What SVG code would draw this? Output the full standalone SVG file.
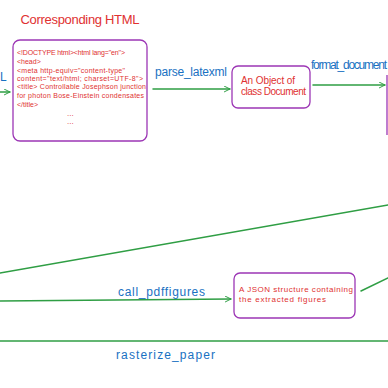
<svg xmlns="http://www.w3.org/2000/svg" width="388" height="388" viewBox="0 0 388 388">
<defs>
<marker id="ah" viewBox="0 0 10 10" refX="9" refY="5" markerWidth="7" markerHeight="7" orient="auto" markerUnits="userSpaceOnUse">
<path d="M1,1 L9,5 L1,9" fill="none" stroke="#2f9e44" stroke-width="1.4" stroke-linecap="round"/>
</marker>
<style>
.box{fill:#ffffff;stroke:#9c36b5;stroke-width:1.3}
.edge{fill:none;stroke:#2f9e44;stroke-width:1.5;stroke-linecap:round}
.lbl{fill:#1971c2;font-family:"Liberation Sans",Arial,sans-serif;font-size:12px}
.red{fill:#e03131;font-family:"Liberation Sans",Arial,sans-serif}
</style>
</defs>
<rect width="388" height="388" fill="#ffffff"/>
<g id="connectors">
<line class="edge" x1="0" y1="92" x2="10" y2="92" marker-end="url(#ah)"/>
<line class="edge" x1="153" y1="89" x2="230" y2="89" marker-end="url(#ah)"/>
<line class="edge" x1="313" y1="85" x2="385" y2="85" marker-end="url(#ah)"/>
<line class="edge" x1="0" y1="273" x2="388" y2="205"/>
<line class="edge" x1="0" y1="301" x2="231" y2="299" marker-end="url(#ah)"/>
<line class="edge" x1="361" y1="291" x2="388" y2="278" stroke-width="1"/>
<line class="edge" x1="0" y1="341" x2="388" y2="341" stroke-width="2"/>
<text class="lbl" x="0" y="81">L</text>
<text class="lbl" x="155" y="76" textLength="72">parse_latexml</text>
<text class="lbl" x="311" y="69" textLength="76">format_document</text>
<text class="lbl" x="118" y="296" textLength="87">call_pdffigures</text>
<text class="lbl" x="116" y="359" textLength="99">rasterize_paper</text>
</g>
<g id="title">
<text class="red" x="80" y="24" font-size="13" text-anchor="middle" textLength="119">Corresponding HTML</text>
</g>
<g id="html">
<rect class="box" x="13" y="40" width="134" height="101" rx="7"/>
<g class="red" font-size="7">
<text x="17" y="55" textLength="108">&lt;!DOCTYPE html&gt;&lt;html lang="en"&gt;</text>
<text x="17" y="64">&lt;head&gt;</text>
<text x="17" y="73" textLength="108">&lt;meta http-equiv="content-type"</text>
<text x="17" y="81" textLength="126">content="text/html; charset=UTF-8"&gt;</text>
<text x="17" y="89" textLength="129">&lt;title&gt; Controllable Josephson junction</text>
<text x="17" y="98" textLength="127">for photon Bose-Einstein condensates</text>
<text x="17" y="107">&lt;/title&gt;</text>
<text x="67" y="116" font-size="8">...</text>
<text x="67" y="124" font-size="8">...</text>
</g>
</g>
<g id="document">
<rect class="box" x="232" y="66" width="78" height="42" rx="6"/>
<text class="red" x="241" y="84" font-size="10" textLength="54">An Object of</text>
<text class="red" x="241" y="95" font-size="10" textLength="65">class Document</text>
</g>
<g id="next">
<line x1="387" y1="75" x2="387" y2="135" stroke="#9c36b5" stroke-width="1.3"/>
</g>
<g id="json">
<rect class="box" x="234" y="273" width="121" height="45" rx="6"/>
<text class="red" x="239" y="292" font-size="8" textLength="114">A JSON structure containing</text>
<text class="red" x="239" y="302" font-size="8" textLength="87">the extracted figures</text>
</g>
</svg>
